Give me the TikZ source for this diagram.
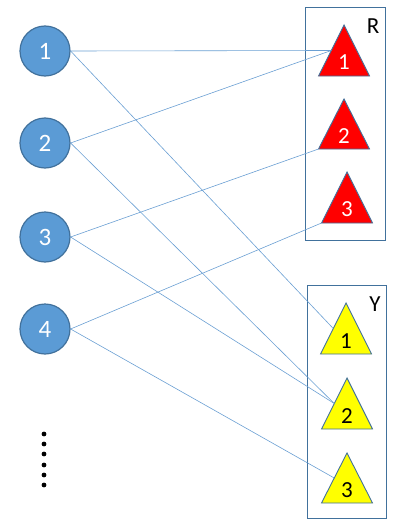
\documentclass[tikz,border=0pt]{standalone}
\usepackage{fontspec}
\setmainfont{Carlito}
\usetikzlibrary{calc}
\definecolor{cfill}{HTML}{5B9BD5}
\definecolor{cline}{HTML}{41719C}
\definecolor{edge}{HTML}{6A9FD3}
\definecolor{tred}{HTML}{FF0000}
\definecolor{tyel}{HTML}{FFFF00}
\begin{document}
\begin{tikzpicture}[x=1pt,y=-1pt,
  circ/.style={circle,draw=cline,line width=1.2pt,fill=cfill,minimum size=50pt,inner sep=0pt,text=white,font=\fontsize{25}{25}\selectfont},
  conn/.style={draw=edge,line width=0.6pt},
  grp/.style={draw=cline,line width=1pt},
  tri/.style={draw=cline,line width=0.9pt},
  tlab/.style={inner sep=0pt,font=\fontsize{23}{23}\selectfont},
  glab/.style={inner sep=0pt,font=\fontsize{23}{23}\selectfont},
  dot/.style={circle,fill=black,inner sep=0pt,minimum size=4.8pt}]
\useasboundingbox (0,0) rectangle (402,527);
% group boxes
\draw[grp] (305,8) rectangle (385,240);
\node[glab] (lR) at (373,26) {R};
\draw[grp] (307,285) rectangle (386,518);
\node[glab] (lY) at (375,304) {Y};
% triangles: apex x, apex y, base y
\foreach \n/\ax/\ay/\by/\col in {R1/344/25/76/tred, R2/344/99/149/tred, R3/347/172/223/tred,
  Y1/346/303/354/tyel, Y2/347/378/429/tyel, Y3/347/453/503/tyel}{
  \draw[tri,fill=\col] (\ax,\ay) coordinate (\n-apex) -- (\ax+25.5,\by) coordinate (\n-br) -- (\ax-25.5,\by) coordinate (\n-bl) -- cycle;
  \coordinate (\n-lm) at ($(\n-apex)!0.5!(\n-bl)$);
}
\node[tlab,text=white] (tR1) at (344,62) {1};
\node[tlab,text=white] (tR2) at (344,136) {2};
\node[tlab,text=white] (tR3) at (347,209) {3};
\node[tlab] (tY1) at (346,341) {1};
\node[tlab] (tY2) at (347,416) {2};
\node[tlab] (tY3) at (347,490) {3};
% circles
\node[circ] (c1) at (45,51) {1};
\node[circ] (c2) at (45,143) {2};
\node[circ] (c3) at (45,237) {3};
\node[circ] (c4) at (45,329) {4};
% connectors
\draw[conn] (c1.east) -- (R1-lm);
\draw[conn] (c1.east) -- (Y1-lm);
\draw[conn] (c2.east) -- (R1-lm);
\draw[conn] (c2.east) -- (Y2-lm);
\draw[conn] (c3.east) -- (R2-bl);
\draw[conn] (c3.east) -- (Y2-lm);
\draw[conn] (c4.east) -- (R3-bl);
\draw[conn] (c4.east) -- (Y3-lm);
% dots
\foreach \i/\y in {1/434,2/444,3/454,4/465,5/475,6/485}{
  \node[dot] (d\i) at (44,\y) {};
}
\end{tikzpicture}
\end{document}
